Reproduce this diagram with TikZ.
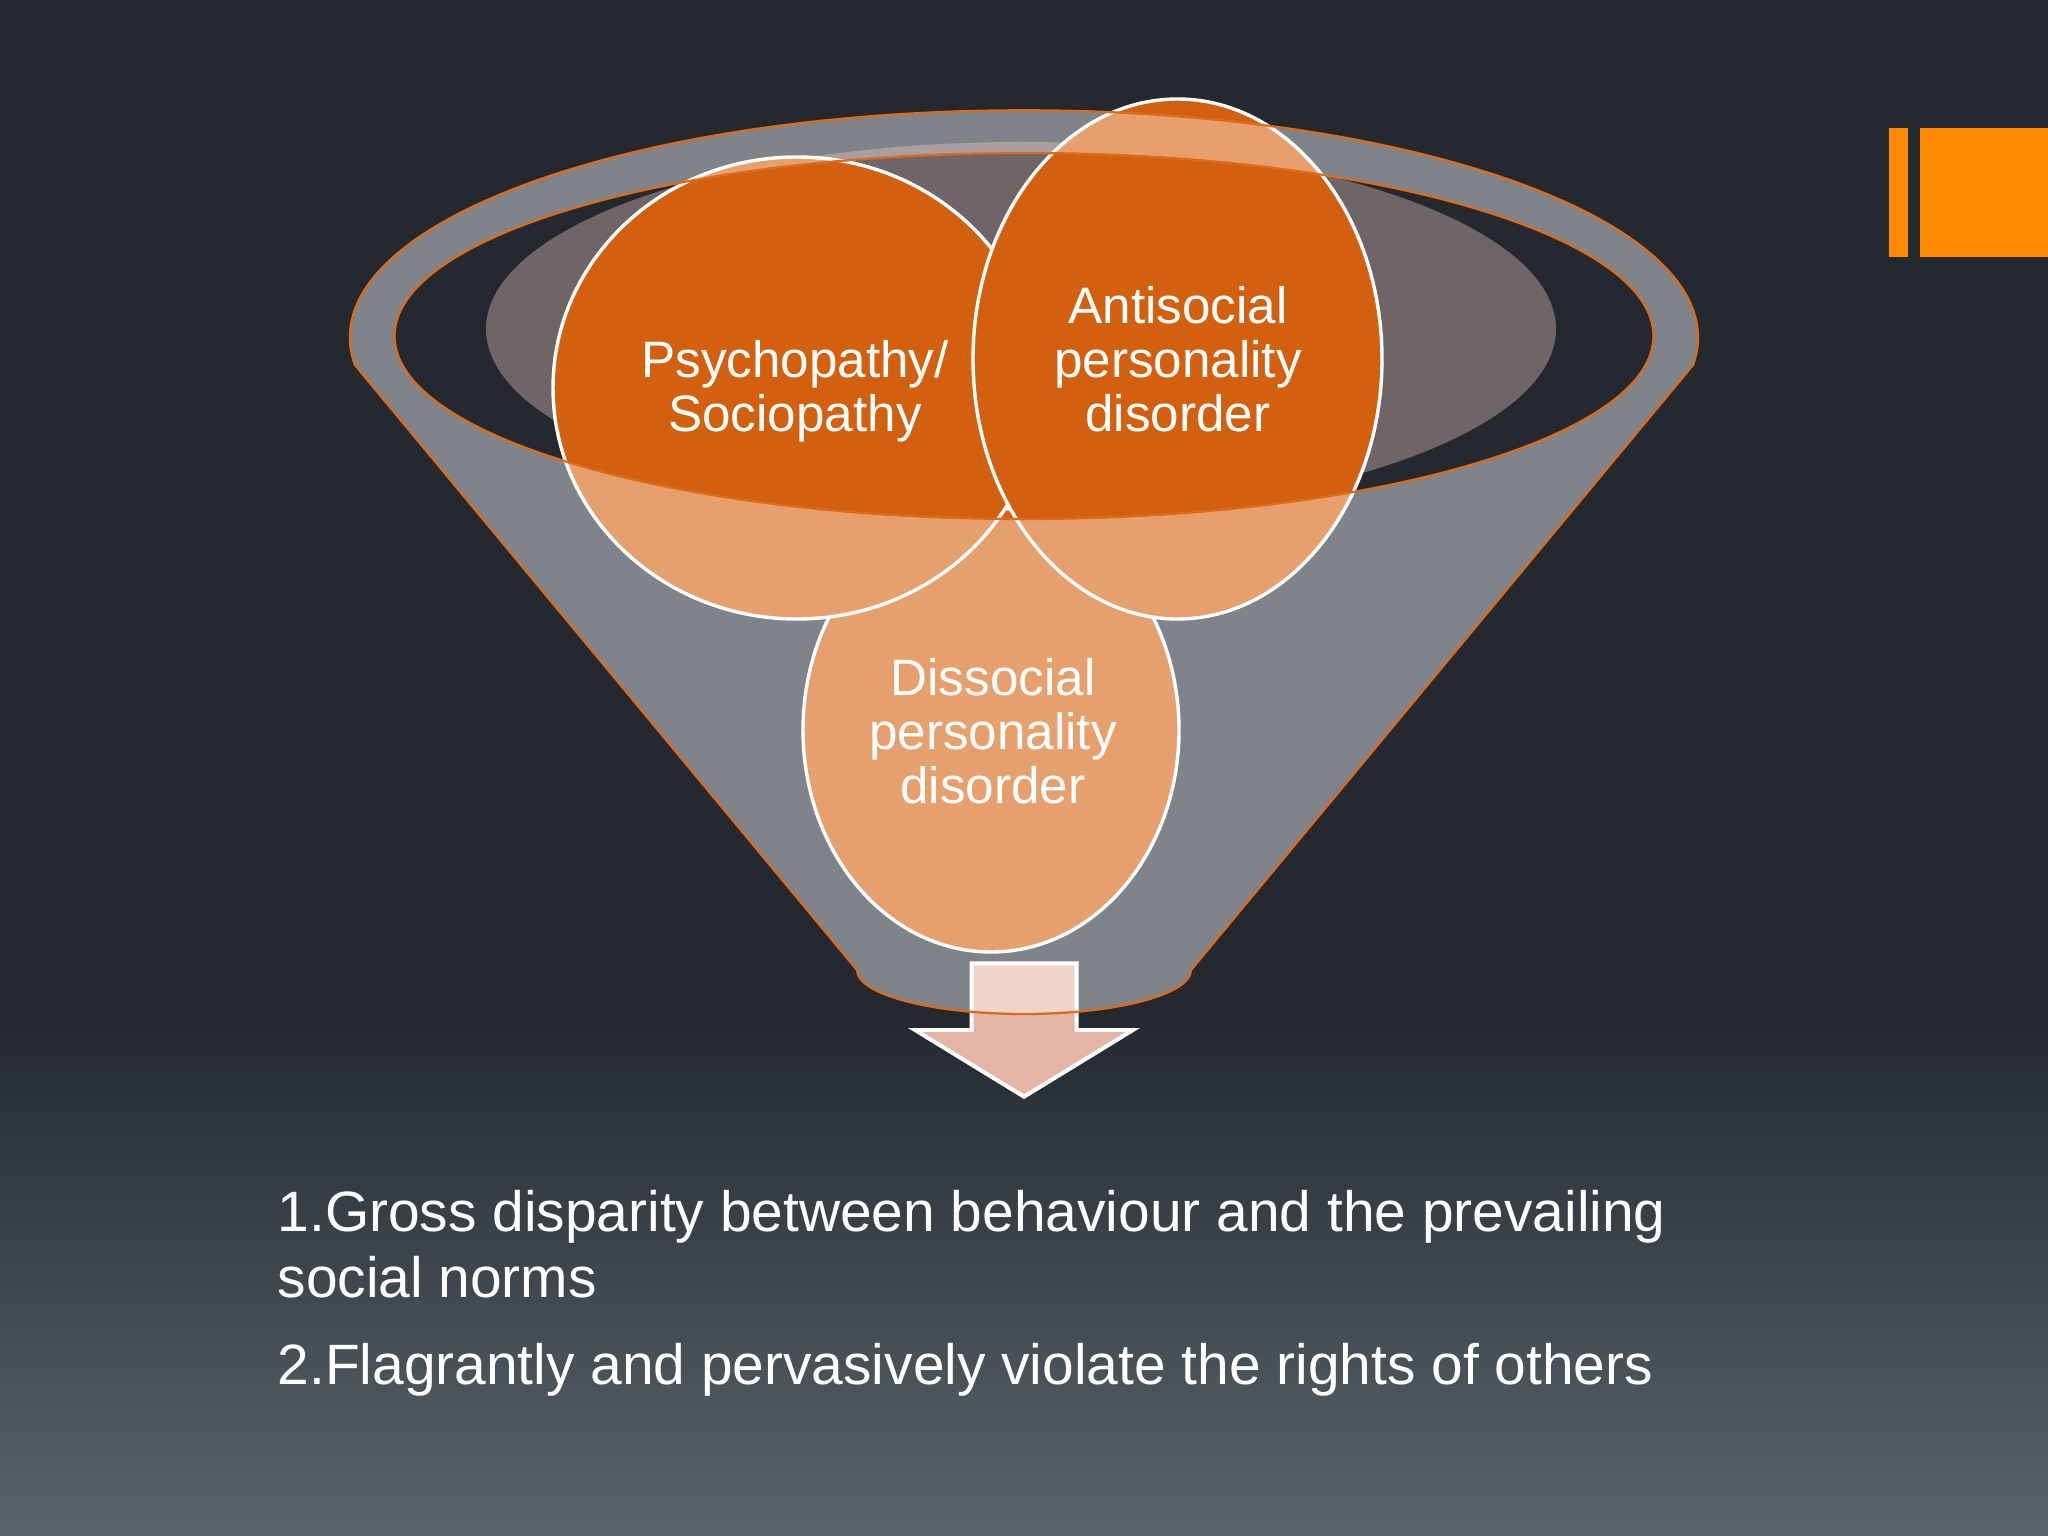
\documentclass[tikz,border=0pt]{standalone}
\usepackage{fontspec}
\setmainfont{Liberation Sans}
\lineskiplimit=-100pt
\definecolor{bgtop}{HTML}{23292F}
\definecolor{bgbot}{HTML}{5B646D}
\definecolor{barorange}{HTML}{FF8A00}
\definecolor{funnelgrey}{HTML}{7E848A}
\definecolor{rimline}{HTML}{DC6C1C}
\definecolor{darkorange}{HTML}{D3600E}
\definecolor{lightorange}{HTML}{E6A06E}
\definecolor{innerglow}{RGB}{246,208,200}
\definecolor{arrowdark}{HTML}{E5B5A8}
\definecolor{arrowlight}{HTML}{F0D3CB}

\newcommand\FunnelPath{(355,365) arc[start angle=173,end angle=367,x radius=674,y radius=227] -- (1191,970) arc[start angle=0,end angle=180,x radius=167,y radius=44] -- cycle}
\newcommand\HolePath{(1024,336) ellipse[x radius=629.5,y radius=183]}
\newcommand\GlowPath{(1021,329) ellipse[x radius=535,y radius=187]}
\newcommand\BubbleBottom{(991,730) ellipse[x radius=188,y radius=222]}
\newcommand\BubbleLeft{(797,388) ellipse[x radius=244,y radius=231]}
\newcommand\BubbleRight{(1177.5,359) ellipse[x radius=204.5,y radius=260]}
\newcommand\ArrowPath{(971.7,963.3) -- (1076.7,963.3) -- (1076.7,1030) -- (1133,1030) -- (1024,1096.7) -- (915,1030) -- (971.7,1030) -- cycle}
\newcommand\OrangeBubble[1]{%
  \fill[darkorange] #1;
  \begin{scope}
    \clip #1;
    \fill[lightorange] \FunnelPath;
    \fill[darkorange] \HolePath;
  \end{scope}
  \draw[bubbleedge] #1;
}

\tikzset{
  bubbleedge/.style={draw=white, line width=1.2pt},
  rimstroke/.style={draw=rimline, line width=0.8pt},
  bubbletext/.style={text=white, font=\fontsize{18}{18.9}\selectfont, align=center, inner sep=0pt},
  bodytext/.style={text=white, font=\fontsize{20}{24}\selectfont, anchor=base west, inner sep=0pt}
}

\begin{document}
\begin{tikzpicture}[x=0.3515625pt, y=-0.3515625pt]
\useasboundingbox (0,0) rectangle (2048,1536);
% background
\fill[bgtop] (0,0) rectangle (2048,1021);
\shade[top color=bgtop, bottom color=bgbot] (0,1019) rectangle (2048,1536);
% corner bars
\fill[barorange] (1889,128) rectangle (1908,257);
\fill[barorange] (1920,128) rectangle (2048,257);
% funnel body
\fill[funnelgrey] \FunnelPath;
\fill[bgtop] \HolePath;
\fill[innerglow, fill opacity=0.36] \GlowPath;
% arrow
\fill[arrowdark] \ArrowPath;
\begin{scope}
  \clip \ArrowPath;
  \fill[arrowlight] \FunnelPath;
\end{scope}
\draw[draw=white, line width=1.4pt] \ArrowPath;
% bubbles
\OrangeBubble{\BubbleBottom}
\OrangeBubble{\BubbleLeft}
\OrangeBubble{\BubbleRight}
% funnel outlines
\draw[rimstroke] \FunnelPath;
\draw[rimstroke] \HolePath;
% bubble labels
\node[bubbletext] (psy) at (795,391) {Psychopathy/\\Sociopathy};
\node[bubbletext] (anti) at (1178,359) {Antisocial\\personality\\disorder};
\node[bubbletext] (diss) at (993,731) {Dissocial\\personality\\disorder};
% body text
\node[bodytext] (item1a) at (277,1231) {1.Gross disparity between behaviour and the prevailing};
\node[bodytext] (item1b) at (277,1297) {social norms};
\node[bodytext] (item2) at (277,1384) {2.Flagrantly and pervasively violate the rights of others};
\end{tikzpicture}
\end{document}
